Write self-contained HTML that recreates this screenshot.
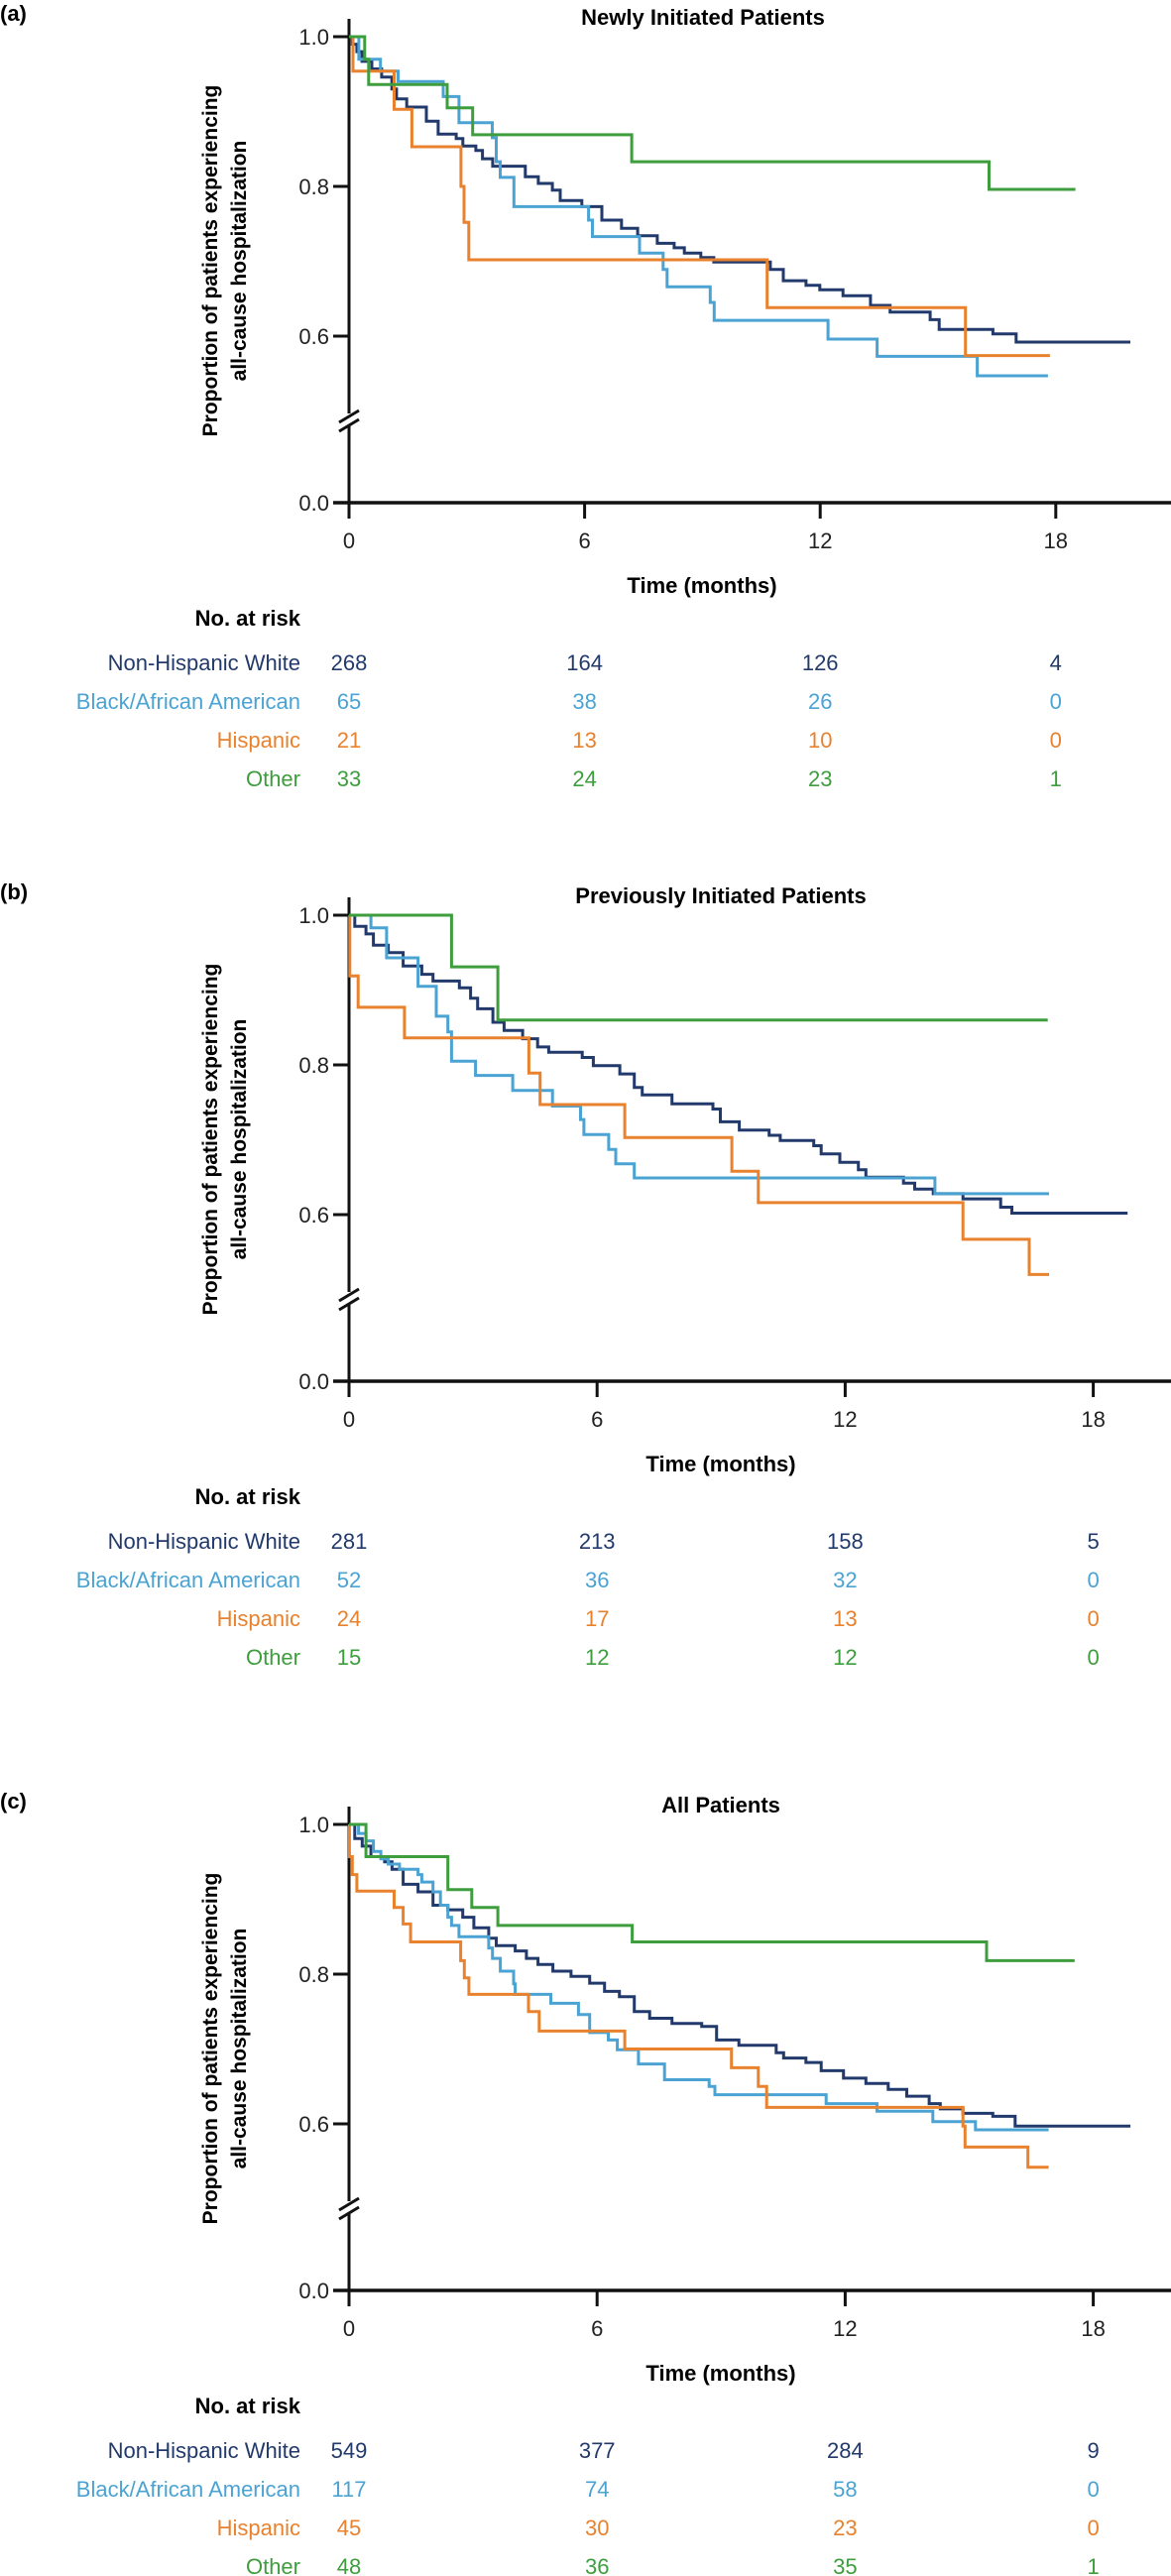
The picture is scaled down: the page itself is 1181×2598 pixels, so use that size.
<!DOCTYPE html>
<html><head><meta charset="utf-8">
<style>
html,body{margin:0;padding:0;background:#fff;}
svg{display:block;font-family:"Liberation Sans",Arial,sans-serif;}
</style></head>
<body>
<svg id="fig" width="1181" height="2598" viewBox="0 0 1181 2598" xmlns="http://www.w3.org/2000/svg"></svg>
<script>
// ---- shared data ----
const tickMonths = [0, 6, 12, 18];
const yTickValues = [1.0, 0.8, 0.6];
const groupNames = ["Non-Hispanic White", "Black/African American", "Hispanic", "Other"];
const groupColors = ["#223a6b", "#4ba3d3", "#e8822e", "#3e9e3e"];
const panelTitles = ["Newly Initiated Patients", "Previously Initiated Patients", "All Patients"];
const panelLetters = ["(a)", "(b)", "(c)"];

// ---- panel (a) data: event times (months) and survival after each step ----
const aNavyT = [0.08,0.2,0.33,0.58,0.83,1.09,1.21,1.47,1.97,2.27,2.73,2.9,3.23,3.4,3.66,4.49,4.82,5.18,5.38,5.93,6.44,6.94,7.35,7.85,8.28,8.54,8.96,9.29,10.73,11.06,11.64,11.99,12.58,13.28,13.78,14.8,15.03,16.4,16.99];
const aNavyS = [0.99,0.98,0.967,0.957,0.946,0.93,0.917,0.906,0.887,0.87,0.864,0.854,0.848,0.837,0.827,0.813,0.804,0.795,0.781,0.773,0.755,0.744,0.734,0.724,0.718,0.711,0.705,0.699,0.689,0.674,0.668,0.662,0.654,0.641,0.632,0.622,0.609,0.603,0.592];
const aNavyEnd = 19.9;
const aBlueT = [0.25,0.8,1.25,2.4,2.8,3.65,3.75,3.85,4.2,6.1,6.2,7.4,8.0,8.1,9.2,9.3,12.2,13.45,16.0];
const aBlueS = [0.97,0.954,0.94,0.92,0.885,0.865,0.833,0.812,0.773,0.755,0.733,0.711,0.689,0.666,0.645,0.621,0.596,0.573,0.547];
const aBlueEnd = 17.8;
const aOrangeT = [0.1,1.15,1.6,2.85,2.93,3.05,10.65,15.7];
const aOrangeS = [0.954,0.903,0.853,0.80,0.752,0.702,0.638,0.574];
const aOrangeEnd = 17.85;
const aGreenT = [0.4,0.5,2.5,3.15,7.2,16.3];
const aGreenS = [0.97,0.936,0.905,0.869,0.833,0.796];
const aGreenEnd = 18.5;
const aRisk0 = [268,164,126,4];
const aRisk1 = [65,38,26,0];
const aRisk2 = [21,13,10,0];
const aRisk3 = [33,24,23,1];

// ---- panel (b) data ----
const bNavyT = [0.14,0.41,0.59,0.95,1.31,1.76,2.03,2.67,2.94,3.11,3.48,3.75,4.2,4.56,4.83,5.64,5.91,6.55,6.9,7.09,7.81,8.8,8.98,9.44,10.16,10.43,11.24,11.42,11.87,12.32,12.5,13.41,13.68,14.13,14.85,15.76,16.03];
const bNavyS = [0.985,0.975,0.96,0.95,0.932,0.921,0.912,0.903,0.889,0.875,0.857,0.846,0.835,0.824,0.817,0.81,0.799,0.788,0.77,0.76,0.748,0.741,0.724,0.713,0.706,0.699,0.692,0.681,0.67,0.66,0.65,0.642,0.634,0.628,0.621,0.61,0.602];
const bNavyEnd = 18.83;
const bBlueT = [0.53,0.91,1.67,2.11,2.39,2.48,3.06,3.96,4.92,5.6,5.68,6.28,6.45,6.9,14.17];
const bBlueS = [0.983,0.943,0.905,0.865,0.844,0.805,0.786,0.766,0.745,0.727,0.707,0.687,0.668,0.649,0.628];
const bBlueEnd = 16.93;
const bOrangeT = [0.02,0.22,1.34,4.35,4.62,6.67,9.26,9.9,14.85,16.45];
const bOrangeS = [0.919,0.877,0.836,0.789,0.747,0.703,0.658,0.616,0.567,0.52];
const bOrangeEnd = 16.93;
const bGreenT = [2.48,3.6];
const bGreenS = [0.931,0.86];
const bGreenEnd = 16.9;
const bRisk0 = [281,213,158,5];
const bRisk1 = [52,36,32,0];
const bRisk2 = [24,17,13,0];
const bRisk3 = [15,12,12,0];

// ---- panel (c) data ----
const cNavyT = [0.14,0.32,0.53,0.86,1.04,1.31,1.67,2.03,2.39,2.75,3.02,3.38,3.56,4.02,4.29,4.57,4.93,5.37,5.82,6.18,6.54,6.9,7.27,7.81,8.53,8.89,9.43,10.33,10.51,11.05,11.42,11.96,12.5,13.04,13.49,14.03,14.3,14.85,15.57,16.11];
const cNavyS = [0.981,0.971,0.957,0.95,0.94,0.92,0.91,0.892,0.886,0.876,0.862,0.848,0.838,0.831,0.821,0.813,0.804,0.797,0.788,0.777,0.77,0.75,0.741,0.734,0.73,0.712,0.705,0.695,0.688,0.682,0.671,0.661,0.654,0.646,0.637,0.627,0.62,0.614,0.61,0.597];
const cNavyEnd = 18.9;
const cBlueT = [0.23,0.41,0.59,0.77,0.95,1.22,1.67,1.76,2.03,2.21,2.39,2.48,2.66,3.38,3.47,3.66,3.98,4.02,4.88,5.55,5.82,6.27,6.49,7.0,7.63,8.71,8.85,11.54,12.77,14.12,15.15];
const cBlueS = [0.988,0.978,0.964,0.954,0.947,0.94,0.933,0.923,0.91,0.892,0.876,0.865,0.85,0.835,0.821,0.804,0.787,0.773,0.761,0.746,0.722,0.712,0.699,0.68,0.659,0.65,0.639,0.627,0.617,0.603,0.592];
const cBlueEnd = 16.92;
const cOrangeT = [0.01,0.08,0.19,1.09,1.31,1.49,2.7,2.79,2.9,4.34,4.6,6.67,9.25,9.9,10.1,14.85,14.9,16.42];
const cOrangeS = [0.957,0.933,0.911,0.889,0.867,0.843,0.818,0.795,0.773,0.75,0.724,0.70,0.675,0.65,0.622,0.597,0.569,0.542];
const cOrangeEnd = 16.92;
const cGreenT = [0.41,2.39,2.97,3.6,6.85,15.42];
const cGreenS = [0.957,0.913,0.889,0.865,0.843,0.818];
const cGreenEnd = 17.55;
const cRisk0 = [549,377,284,9];
const cRisk1 = [117,74,58,0];
const cRisk2 = [45,30,23,0];
const cRisk3 = [48,36,35,1];

const NS = "http://www.w3.org/2000/svg";
const svg = document.getElementById("fig");
function mk(tag, attrs, parent) {
  const e = document.createElementNS(NS, tag);
  for (const k in attrs) e.setAttribute(k, attrs[k]);
  (parent || svg).appendChild(e);
  return e;
}

const panels = [
  {off: 0, pxPerMonth: 39.6, titleX: 709, xLabelX: 708,
   series: [[aNavyT,aNavyS,aNavyEnd],[aBlueT,aBlueS,aBlueEnd],[aOrangeT,aOrangeS,aOrangeEnd],[aGreenT,aGreenS,aGreenEnd]],
   risk: [aRisk0,aRisk1,aRisk2,aRisk3]},
  {off: 886, pxPerMonth: 41.7, titleX: 727, xLabelX: 727,
   series: [[bNavyT,bNavyS,bNavyEnd],[bBlueT,bBlueS,bBlueEnd],[bOrangeT,bOrangeS,bOrangeEnd],[bGreenT,bGreenS,bGreenEnd]],
   risk: [bRisk0,bRisk1,bRisk2,bRisk3]},
  {off: 1803, pxPerMonth: 41.7, titleX: 727, xLabelX: 727,
   series: [[cNavyT,cNavyS,cNavyEnd],[cBlueT,cBlueS,cBlueEnd],[cOrangeT,cOrangeS,cOrangeEnd],[cGreenT,cGreenS,cGreenEnd]],
   risk: [cRisk0,cRisk1,cRisk2,cRisk3]}
];
const seriesNames = ["non-hispanic-white","black-african-american","hispanic","other"];

panels.forEach((p, pi) => {
  const o = p.off;
  const X0 = 352;
  const xs = t => X0 + t * p.pxPerMonth;
  const ys = v => o + 37 + (1 - v) * 755;
  const yZero = o + 507;
  const g = mk("g", {});
  
  

  let t = mk("text", {x: 0, y: o + 21, "font-size": 22, "font-weight": "bold", fill: "#000"}, g);
  t.textContent = panelLetters[pi];
  
  

  t = mk("text", {x: p.titleX, y: o + 25, "font-size": 22, "font-weight": "bold", "text-anchor": "middle", fill: "#000"}, g);
  t.textContent = panelTitles[pi];
  
  

  // y axis title
  const cy = o + 263;
  t = mk("text", {x: 0, y: 0, "font-size": 21, "font-weight": "bold", "text-anchor": "middle", fill: "#000",
    transform: "translate(219," + cy + ") rotate(-90)"}, g);
  t.textContent = "Proportion of patients experiencing";
  
  
  t = mk("text", {x: 0, y: 0, "font-size": 21, "font-weight": "bold", "text-anchor": "middle", fill: "#000",
    transform: "translate(248," + cy + ") rotate(-90)"}, g);
  t.textContent = "all-cause hospitalization";
  
  

  // y axis with break
  let l = mk("line", {x1: X0, y1: o + 19, x2: X0, y2: o + 417, stroke: "#111", "stroke-width": 3}, g);
  
  
  l = mk("line", {x1: X0, y1: o + 429, x2: X0, y2: yZero + 16, stroke: "#111", "stroke-width": 3}, g);
  
  
  [o + 420, o + 429].forEach(by => {
    const b = mk("line", {x1: X0 - 10, y1: by + 6, x2: X0 + 10, y2: by - 6, stroke: "#111", "stroke-width": 3}, g);
    
    
  });
  // y ticks
  yTickValues.concat([0]).forEach(v => {
    const yy = v === 0 ? yZero : ys(v);
    const tk = mk("line", {x1: X0 - 16, y1: yy, x2: X0, y2: yy, stroke: "#111", "stroke-width": 3}, g);
    
    
    const lb = mk("text", {x: X0 - 20, y: yy + 8, "font-size": 22, "text-anchor": "end", fill: "#222"}, g);
    lb.textContent = v.toFixed(1);
    
    
  });
  // x axis
  l = mk("line", {x1: X0 - 16, y1: yZero, x2: 1181, y2: yZero, stroke: "#111", "stroke-width": 3.5}, g);
  
  
  tickMonths.forEach(m => {
    const xx = xs(m);
    const tk = mk("line", {x1: xx, y1: yZero, x2: xx, y2: yZero + 16, stroke: "#111", "stroke-width": 3}, g);
    
    
    const lb = mk("text", {x: xx, y: o + 553, "font-size": 22, "text-anchor": "middle", fill: "#222"}, g);
    lb.textContent = m;
    
    
  });
  t = mk("text", {x: p.xLabelX, y: o + 598, "font-size": 22, "font-weight": "bold", "text-anchor": "middle", fill: "#000"}, g);
  t.textContent = "Time (months)";
  
  

  // curves
  p.series.forEach((s, si) => {
    const T = s[0], S = s[1], end = s[2];
    let d = "M" + xs(0) + " " + ys(1);
    for (let i = 0; i < T.length; i++) {
      d += " H" + xs(T[i]).toFixed(1) + " V" + ys(S[i]).toFixed(1);
    }
    d += " H" + xs(end).toFixed(1);
    const path = mk("path", {d: d, fill: "none", stroke: groupColors[si], "stroke-width": 3, "stroke-linejoin": "miter"}, g);
    
    
  });

  // risk table
  t = mk("text", {x: 303, y: o + 631, "font-size": 22, "font-weight": "bold", "text-anchor": "end", fill: "#000"}, g);
  t.textContent = "No. at risk";
  
  
  p.risk.forEach((row, ri) => {
    const ry = o + 676 + ri * 39;
    const nm = mk("text", {x: 303, y: ry, "font-size": 22, "text-anchor": "end", fill: groupColors[ri]}, g);
    nm.textContent = groupNames[ri];
    
    
    row.forEach((n, ci) => {
      const c = mk("text", {x: xs(tickMonths[ci]), y: ry, "font-size": 22, "text-anchor": "middle", fill: groupColors[ri]}, g);
      c.textContent = n;
      
      
    });
  });
});
</script>
</body></html>
